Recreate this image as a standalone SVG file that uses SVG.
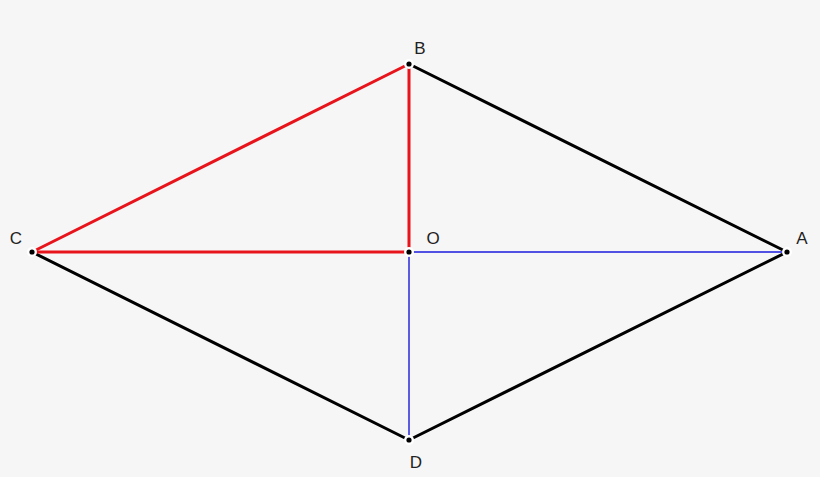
<svg xmlns="http://www.w3.org/2000/svg" width="820" height="477" viewBox="0 0 820 477">
<style>
.bk{stroke:#000;stroke-width:3;fill:none;stroke-linecap:round}
.rd{stroke:#e8141c;stroke-width:3;fill:none;stroke-linecap:round}
.bl{stroke:#1a1adc;stroke-width:1.4;fill:none}
.halo{fill:#fff}
.dot{fill:#000}
text{font-family:"Liberation Sans",Arial,sans-serif;font-size:17px;fill:#222;text-anchor:middle}
</style>
<rect width="820" height="477" fill="#f6f6f6"/>
<g id="connectors">
<line class="bl" x1="409" y1="252" x2="787" y2="252"/>
<line class="bl" x1="409" y1="252" x2="409" y2="440"/>
<line class="bk" x1="409" y1="64" x2="787" y2="252"/>
<line class="bk" x1="787" y1="252" x2="409" y2="440"/>
<line class="bk" x1="409" y1="440" x2="32" y2="252"/>
<line class="rd" x1="32" y1="252" x2="409" y2="64"/>
<line class="rd" x1="409" y1="64" x2="409" y2="252"/>
<line class="rd" x1="32" y1="252" x2="409" y2="252"/>
</g>
<g id="B"><circle class="halo" cx="409" cy="64" r="5"/><circle class="dot" cx="409" cy="64" r="2.6"/><text x="420" y="54">B</text></g>
<g id="C"><circle class="halo" cx="32" cy="252" r="5"/><circle class="dot" cx="32" cy="252" r="2.6"/><text x="16" y="244">C</text></g>
<g id="O"><circle class="halo" cx="409" cy="252" r="5"/><circle class="dot" cx="409" cy="252" r="2.6"/><text x="433" y="244">O</text></g>
<g id="A"><circle class="halo" cx="787" cy="252" r="5"/><circle class="dot" cx="787" cy="252" r="2.6"/><text x="802" y="244">A</text></g>
<g id="D"><circle class="halo" cx="409" cy="440" r="5"/><circle class="dot" cx="409" cy="440" r="2.6"/><text x="416" y="468">D</text></g>
</svg>
